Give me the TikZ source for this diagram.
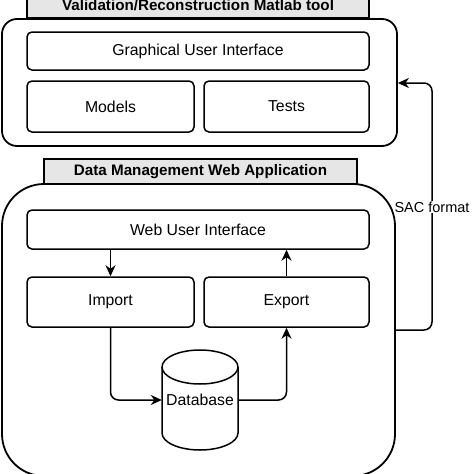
\documentclass[tikz,border=0pt]{standalone}
\usepackage{fontspec}
\setmainfont{Liberation Sans}
\usetikzlibrary{arrows.meta}
\definecolor{titlegray}{HTML}{E6E6E6}
\begin{document}
\begin{tikzpicture}[x=1pt,y=-1pt,
  txt/.style={font=\fontsize{15.8}{18}\selectfont},
  outerbox/.style={draw, line width=1.8pt, rectangle, inner sep=0pt},
  innerbox/.style={draw, line width=1.5pt, rectangle, rounded corners=5pt, inner sep=0pt, txt},
  titlebox/.style={draw, line width=1.5pt, fill=titlegray, inner sep=0pt, font=\bfseries\fontsize{15.2}{18}\selectfont},
  conn/.style={line width=1.5pt, rounded corners=8pt, -{Stealth[length=11pt,width=10pt,inset=3.5pt]}}
]
\useasboundingbox (0,0) rectangle (474,474);
\clip (0,0) rectangle (474,474);
% top section
\node[titlebox, minimum width=342pt, minimum height=25pt] (t1) at (198,5.5) {Validation/Reconstruction Matlab tool};
\node[outerbox, rounded corners=15pt, minimum width=395pt, minimum height=127pt] (o1) at (199.5,82.5) {};
\node[innerbox, minimum width=342pt, minimum height=38pt] (gui) at (198,51) {Graphical User Interface};
\node[innerbox, minimum width=167pt, minimum height=51pt] (models) at (110.5,106.5) {Models};
\node[innerbox, minimum width=165pt, minimum height=51pt] (tests) at (286.5,106.5) {Tests};
% bottom section
\node[titlebox, minimum width=313pt, minimum height=25pt] (t2) at (200.5,171.5) {Data Management Web Application};
\node[outerbox, rounded corners=42pt, minimum width=393pt, minimum height=292pt] (o2) at (198.5,330) {};
\node[innerbox, minimum width=342pt, minimum height=39pt] (webui) at (198,229.5) {Web User Interface};
\node[innerbox, minimum width=167pt, minimum height=50pt] (import) at (110.5,302) {Import};
\node[innerbox, minimum width=165pt, minimum height=50pt] (export) at (286.5,302) {Export};
% database cylinder
\node[minimum width=76pt, minimum height=100pt, inner sep=0pt, txt] (db) at (200,400) {};
\draw[line width=1.5pt, fill=white] (162,367) -- (162,433) arc[start angle=180, end angle=0, x radius=38, y radius=17] -- (238,367) arc[start angle=0, end angle=-180, x radius=38, y radius=17] -- cycle;
\draw[line width=1.5pt] (162,367) arc[start angle=180, end angle=0, x radius=38, y radius=17];
\node[txt] at (db.center) {Database};
% connectors
\draw[conn] (webui.south -| import.north) -- (import.north);
\draw[conn] (export.north) -- (export.north |- webui.south);
\draw[conn] (import.south) |- (db.west);
\draw[conn] (db.east) -| (export.south);
\coordinate (r1) at (432,330);
\coordinate (r2) at (432,83);
\draw[conn] (o2.east) -- (r1) -- (r2) -- (o1.east |- r2);
\node[fill=white, inner sep=1pt, font=\fontsize{14.5}{17}\selectfont] (sac) at (432,207) {SAC format};
\end{tikzpicture}
\end{document}
